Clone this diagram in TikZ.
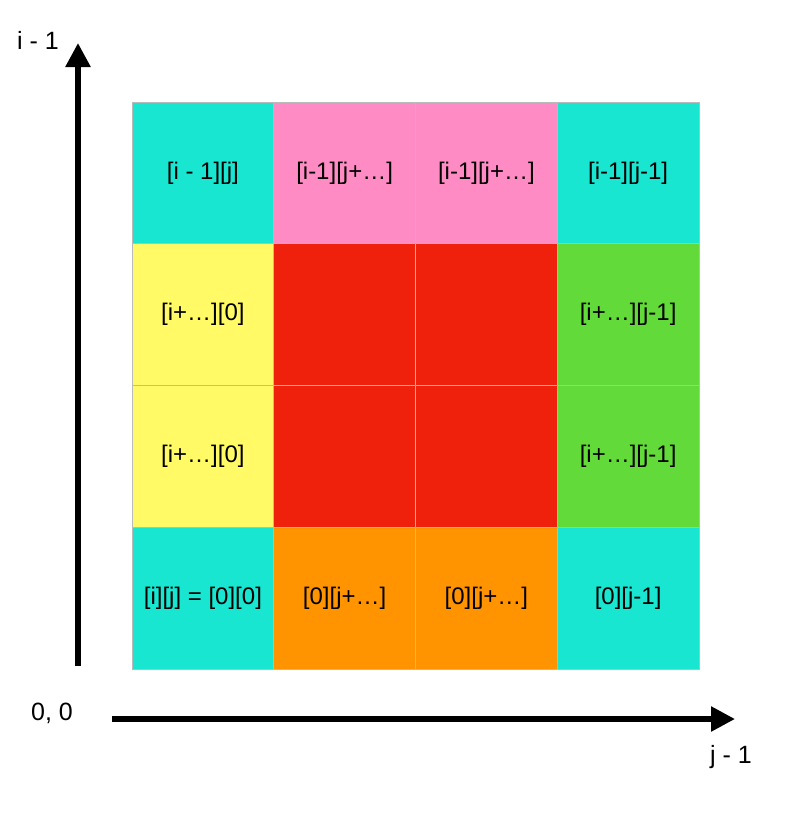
\documentclass[tikz,border=0pt]{standalone}
\usepackage{fontspec}
\setmainfont{Liberation Sans}
\usetikzlibrary{arrows.meta}

\begin{document}
\begin{tikzpicture}[x=1pt,y=-1pt,
			cell/.style={rectangle,draw=black!27,line width=0.6pt,minimum size=141.75pt,inner sep=0pt,
				font=\fontsize{24}{28}\selectfont},
			corner cell/.style={cell,fill=cornercol},
			top cell/.style={cell,fill=topcol},
			left cell/.style={cell,fill=leftcol},
			inner cell/.style={cell,fill=innercol},
			right cell/.style={cell,fill=rightcol},
			bottom cell/.style={cell,fill=bottomcol},
			axis/.style={line width=5.5pt,-{Triangle[length=24pt,width=24pt]}},
			axis label/.style={font=\fontsize{25}{28}\selectfont}
			]
			\definecolor{cornercol}{RGB}{24,230,208}
			\definecolor{topcol}{RGB}{255,139,197}
			\definecolor{leftcol}{RGB}{255,250,101}
			\definecolor{innercol}{RGB}{239,33,13}
			\definecolor{rightcol}{RGB}{98,218,58}
			\definecolor{bottomcol}{RGB}{255,148,0}

			\useasboundingbox (0,0) rectangle (804,820);

			% top row
			\node[corner cell] at (202.9,172.9) (c00) {[i - 1][j]};
			\node[top cell] at (344.6,172.9) (c01) {[i-1][j+\ldots]};
			\node[top cell] at (486.4,172.9) (c02) {[i-1][j+\ldots]};
			\node[corner cell] at (628.1,172.9) (c03) {[i-1][j-1]};
			% middle rows
			\node[left cell] at (202.9,314.6) (c10) {[i+\ldots][0]};
			\node[inner cell] at (344.6,314.6) (c11) {};
			\node[inner cell] at (486.4,314.6) (c12) {};
			\node[right cell] at (628.1,314.6) (c13) {[i+\ldots][j-1]};
			\node[left cell] at (202.9,456.4) (c20) {[i+\ldots][0]};
			\node[inner cell] at (344.6,456.4) (c21) {};
			\node[inner cell] at (486.4,456.4) (c22) {};
			\node[right cell] at (628.1,456.4) (c23) {[i+\ldots][j-1]};
			% bottom row
			\node[corner cell] at (202.9,598.1) (c30) {[i][j] = [0][0]};
			\node[bottom cell] at (344.6,598.1) (c31) {[0][j+\ldots]};
			\node[bottom cell] at (486.4,598.1) (c32) {[0][j+\ldots]};
			\node[corner cell] at (628.1,598.1) (c33) {[0][j-1]};

			% axes
			\coordinate (ybot) at (78,666);
			\coordinate (ytop) at (78,43);
			\coordinate (xleft) at (112,719);
			\coordinate (xright) at (735,719);
			\draw[axis] (ybot) -- (ytop);
			\draw[axis] (xleft) -- (xright);

			\node[axis label] at (38,40) (ilab) {i - 1};
			\node[axis label] at (52,713) (origin) {0, 0};
			\node[axis label] at (731,757) (jlab) {j - 1};
		\end{tikzpicture}
\end{document}
